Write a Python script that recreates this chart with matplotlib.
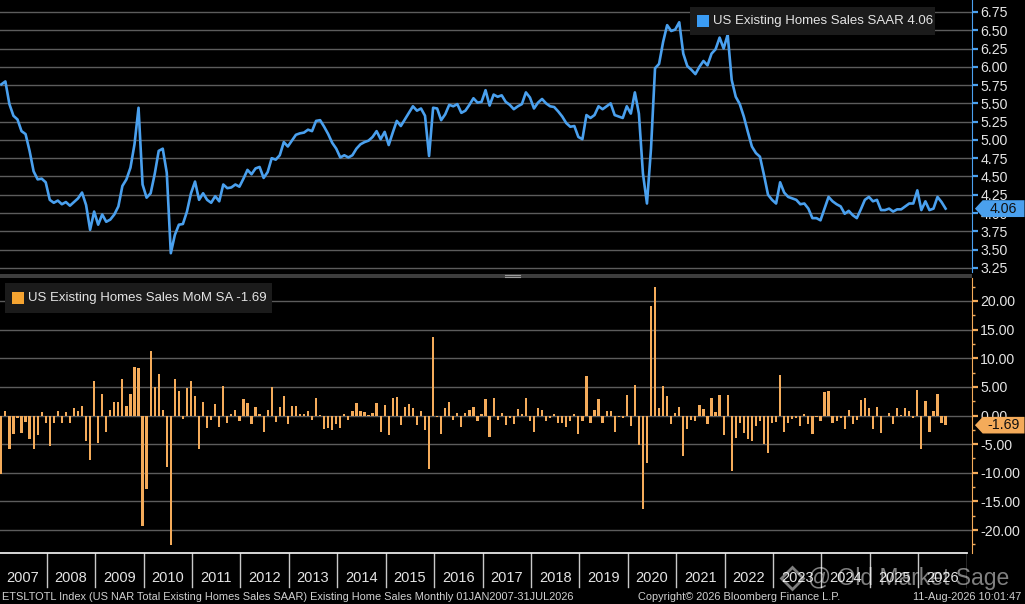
import numpy as np
import matplotlib
matplotlib.use('Agg')
import matplotlib.pyplot as plt
from matplotlib.patches import Rectangle, Polygon
from matplotlib.lines import Line2D
from matplotlib.ticker import FormatStrFormatter, MultipleLocator

# US existing home sales SAAR (millions), Jan 2007 .. Jul 2026
saar = [
    5.76, 5.80, 5.49, 5.33, 5.28, 5.12, 5.08, 4.85, 4.57, 4.46, 4.47, 4.42,  # 2007
    4.18, 4.14, 4.17, 4.12, 4.15, 4.10, 4.15, 4.20, 4.28, 4.11, 3.77, 4.02,  # 2008
    3.84, 3.98, 3.88, 3.91, 3.98, 4.09, 4.37, 4.46, 4.62, 4.94, 5.44, 4.39,  # 2009
    4.21, 4.27, 4.53, 4.85, 4.88, 4.55, 3.45, 3.70, 3.84, 3.85, 4.02, 4.27,  # 2010
    4.43, 4.18, 4.27, 4.18, 4.14, 4.23, 4.16, 4.39, 4.34, 4.35, 4.39, 4.36,  # 2011
    4.47, 4.59, 4.53, 4.61, 4.63, 4.48, 4.56, 4.75, 4.73, 4.79, 4.97, 4.91,  # 2012
    4.99, 5.07, 5.09, 5.10, 5.14, 5.12, 5.26, 5.27, 5.18, 5.08, 4.96, 4.88,  # 2013
    4.76, 4.79, 4.76, 4.79, 4.88, 4.94, 4.97, 4.99, 5.04, 5.12, 5.01, 5.11,  # 2014
    4.93, 5.10, 5.26, 5.19, 5.28, 5.37, 5.46, 5.40, 5.43, 5.33, 4.78, 5.44,  # 2015
    5.43, 5.27, 5.35, 5.48, 5.46, 5.49, 5.37, 5.40, 5.48, 5.57, 5.51, 5.52,  # 2016
    5.68, 5.47, 5.62, 5.59, 5.61, 5.52, 5.48, 5.42, 5.46, 5.49, 5.65, 5.58,  # 2017
    5.43, 5.51, 5.56, 5.50, 5.46, 5.45, 5.39, 5.32, 5.23, 5.18, 5.19, 5.04,  # 2018
    5.01, 5.34, 5.30, 5.34, 5.46, 5.42, 5.46, 5.50, 5.34, 5.32, 5.30, 5.46,  # 2019
    5.36, 5.65, 5.36, 4.54, 4.13, 4.88, 5.98, 6.04, 6.34, 6.57, 6.49, 6.51,  # 2020
    6.61, 6.18, 6.01, 5.96, 5.90, 6.00, 6.08, 6.02, 6.18, 6.24, 6.40, 6.25,  # 2021
    6.44, 5.82, 5.59, 5.49, 5.32, 5.11, 4.91, 4.82, 4.77, 4.52, 4.25, 4.18,  # 2022
    4.13, 4.42, 4.28, 4.22, 4.20, 4.18, 4.12, 4.13, 4.06, 3.93, 3.93, 3.90,  # 2023
    4.06, 4.22, 4.16, 4.12, 4.09, 3.99, 4.03, 3.97, 3.93, 4.05, 4.18, 4.22,  # 2024
    4.16, 4.18, 4.04, 4.04, 4.06, 4.02, 4.05, 4.05, 4.09, 4.13, 4.13, 4.31,  # 2025
    4.04, 4.16, 4.04, 4.06, 4.22, 4.15, 4.06,                                # 2026
]

# month over month change, SA (%)
mom = [
    -10.2, 0.7, -5.8, -3.2, -0.5, -3.0, -1.2, -4.1, -5.9, -3.4, 0.6, -1.3,
    -5.3, -1.3, 0.7, -1.3, 0.6, -1.3, 1.3, 0.7, 1.7, -4.4, -7.8, 6.1,
    -4.8, 3.7, -2.8, 0.9, 2.3, 2.3, 6.3, 1.6, 3.7, 8.4, 8.3, -19.2,
    -12.9, 11.2, 4.9, 7.2, 1.0, -9.0, -22.6, 6.4, 4.2, -0.6, 4.8, 6.0,
    3.4, -5.9, 2.3, -2.2, -0.7, 2.0, -2.0, 5.2, -1.3, 0.3, 0.9, -1.0,
    2.9, 2.2, -1.5, 1.5, 0.3, -2.9, 1.0, 4.9, -1.2, 1.5, 3.4, -1.5,
    1.6, 1.6, 0.3, 0.3, 0.7, -0.7, 3.0, 0.1, -2.3, -2.2, -2.6, -1.5,
    -2.2, 0.3, -0.7, 0.7, 2.2, 0.7, 0.6, 0.1, 0.5, 2.2, -2.8, 1.9,
    -3.4, 3.0, 3.2, -1.6, 1.5, 2.0, 1.3, -1.6, 0.7, -2.6, -9.4, 13.7,
    -0.2, -3.2, 1.3, 2.3, -0.7, 0.5, -2.0, 0.5, 1.0, 1.5, -0.9, 0.3,
    2.8, -3.8, 3.1, -0.7, 0.5, -1.7, -0.5, -1.5, 1.2, 0.3, 3.1, -0.9,
    -2.9, 1.3, 0.9, -1.0, -0.5, 0.3, -1.3, -1.3, -2.0, -0.9, 0.3, -3.2,
    -0.9, 6.9, -1.3, 1.0, 2.9, -1.3, 0.8, 0.8, -2.9, -0.3, -0.5, 3.5,
    -1.9, 5.3, -5.1, -16.4, -8.3, 19.1, 22.4, 1.3, 5.1, 3.4, -1.5, 0.5,
    1.5, -7.1, -2.3, -0.7, -1.0, 1.8, 1.2, -1.4, 3.1, 0.6, 3.5, -3.4,
    3.5, -9.7, -4.0, -1.3, -3.1, -4.1, -4.4, -1.9, -1.0, -5.0, -6.6, -1.3,
    -1.2, 7.0, -2.8, -1.3, -0.6, -0.5, -1.9, 0.2, -1.5, -3.3, -0.2, -1.0,
    4.1, 4.2, -1.3, -1.0, -0.5, -2.3, 1.0, -1.5, -0.8, 2.7, 3.0, 1.3,
    -2.3, 1.4, -3.1, -0.1, 0.5, -1.5, 1.3, 0.1, 1.3, 0.7, -0.5, 4.4,
    -5.8, 2.6, -2.9, 0.7, 3.7, -1.3, -1.69,
]

years = list(range(2007, 2027))
top_ticks = np.arange(3.25, 6.76, 0.25)
bot_ticks = np.arange(-20, 21, 5)

BLUE = '#4aa0ee'
ORANGE = '#f4ab5a'
GRID = '#5c5c5c'
TXT = '#e4e4e4'

plt.rcParams['font.family'] = ['Liberation Sans', 'DejaVu Sans']

W, H = 1025, 604
fig = plt.figure(figsize=(W / 100, H / 100), dpi=100, facecolor='black')


def box(x0, y0, x1, y1):
    return [x0 / W, 1 - y1 / H, (x1 - x0) / W, (y1 - y0) / H]


def fx(px):
    return px / W


def fy(py):
    return 1 - py / H


x = np.arange(len(saar)) + 0.75
xlim = (0.42, 241.3)

# ---- top panel: SAAR line
ax1 = fig.add_axes(box(0, 0, 972, 272))
ax1.set_facecolor('black')
ax1.plot(x, saar, color=BLUE, lw=1.9, zorder=3)
ax1.set_xlim(xlim)
ax1.set_ylim(3.193, 6.914)
ax1.set_yticks(top_ticks)
ax1.yaxis.tick_right()
ax1.yaxis.set_major_formatter(FormatStrFormatter('%.2f'))
ax1.tick_params(axis='y', colors=BLUE, labelcolor=TXT, length=4, width=1.6,
                labelsize=10.2, pad=2)
ax1.set_xticks([])
ax1.grid(axis='y', color=GRID, lw=1)
for s in ['top', 'left', 'bottom']:
    ax1.spines[s].set_visible(False)
ax1.spines['right'].set_color(BLUE)

# ---- bottom panel: MoM bars
ax2 = fig.add_axes(box(0, 278, 972, 553))
ax2.set_facecolor('black')
ax2.bar(x, mom, width=0.55, color=ORANGE, linewidth=0, zorder=3)
ax2.set_xlim(xlim)
ax2.set_ylim(-24, 24)
ax2.set_yticks(bot_ticks)
ax2.yaxis.set_minor_locator(MultipleLocator(2.5))
ax2.yaxis.tick_right()
ax2.yaxis.set_major_formatter(FormatStrFormatter('%.2f'))
ax2.tick_params(axis='y', which='major', colors=ORANGE, labelcolor=TXT, length=4,
                width=1.6, labelsize=10.2, pad=2)
ax2.tick_params(axis='y', which='minor', colors=ORANGE, length=2.5, width=1)
ax2.set_xticks([])
ax2.grid(axis='y', which='major', color=GRID, lw=1)
for s in ['top', 'left', 'bottom']:
    ax2.spines[s].set_visible(False)
ax2.spines['right'].set_color(ORANGE)


# last value tags on the right axis
def tag(ax, val, h, color, label):
    tr = ax.get_yaxis_transform()
    pts = [(1.003, val), (1.011, val + h / 2), (1.054, val + h / 2),
           (1.054, val - h / 2), (1.011, val - h / 2)]
    ax.add_patch(Polygon(pts, closed=True, transform=tr, facecolor=color,
                         edgecolor='none', clip_on=False, zorder=10))
    ax.text(1.032, val, label, transform=tr, ha='center', va='center',
            fontsize=10.2, color='#101010', clip_on=False, zorder=11)


tag(ax1, saar[-1], 0.23, BLUE, '%.2f' % saar[-1])
tag(ax2, mom[-1], 2.9, ORANGE, '%.2f' % mom[-1])

# legends
fig.add_artist(Rectangle((fx(690), fy(35)), fx(935) - fx(690), fy(7) - fy(35),
                         transform=fig.transFigure, facecolor='#1b1b1b', edgecolor='none'))
fig.add_artist(Rectangle((fx(697), fy(27)), fx(709) - fx(697), fy(15) - fy(27),
                         transform=fig.transFigure, facecolor='#3a9cf5', edgecolor='none'))
fig.text(fx(713), fy(21), 'US Existing Homes Sales SAAR %.2f' % saar[-1],
         color=TXT, fontsize=9.5, va='center', ha='left')

fig.add_artist(Rectangle((fx(5), fy(313)), fx(272) - fx(5), fy(283) - fy(313),
                         transform=fig.transFigure, facecolor='#1b1b1b', edgecolor='none'))
fig.add_artist(Rectangle((fx(12), fy(304)), fx(24) - fx(12), fy(292) - fy(304),
                         transform=fig.transFigure, facecolor='#f5a431', edgecolor='none'))
fig.text(fx(28), fy(298), 'US Existing Homes Sales MoM SA %.2f' % mom[-1],
         color=TXT, fontsize=9.5, va='center', ha='left')

# divider between the panels
fig.add_artist(Rectangle((0, fy(278)), fx(972), fy(274) - fy(278),
                         transform=fig.transFigure, facecolor='#3d3d3d', edgecolor='none'))
for yy in (275, 277):
    fig.add_artist(Line2D([fx(505), fx(520)], [fy(yy), fy(yy)],
                          transform=fig.transFigure, color='#9a9a9a', lw=0.8))

# ---- year band
ax3 = fig.add_axes(box(0, 553, 967, 590))
ax3.set_facecolor('black')
ax3.set_xlim(xlim[0], xlim[0] + 967 / 4.035)
ax3.set_ylim(0, 1)
ax3.set_xticks([])
ax3.set_yticks([])
for s in ['left', 'right', 'bottom']:
    ax3.spines[s].set_visible(False)
ax3.spines['top'].set_color('#e8e8e8')
ax3.spines['top'].set_linewidth(1.3)
for k, yr in enumerate(years):
    if k > 0:
        ax3.axvline(12 * k, ymin=0.08, ymax=1, color='#c8c8c8', lw=1)
    ax3.text(12 * k + 6, 0.32, str(yr), ha='center', va='center',
             color=TXT, fontsize=10.5)
ax3.axvline(12 * len(years), ymin=0.08, ymax=1, color='#c8c8c8', lw=1)

# footer
fig.text(fx(2), fy(597), 'ETSLTOTL Index (US NAR Total Existing Homes Sales SAAR) '
         'Existing Home Sales Monthly 01JAN2007-31JUL2026',
         color='#d0d0d0', fontsize=7.9, va='center', ha='left')
fig.text(fx(638), fy(597), 'Copyright\u00a9 2026 Bloomberg Finance L.P.',
         color='#d0d0d0', fontsize=7.9, va='center', ha='left')
fig.text(fx(1021), fy(597), '11-Aug-2026 10:01:47',
         color='#d0d0d0', fontsize=7.9, va='center', ha='right')

# watermark (overlaps the last year labels, as in the source image)
fig.add_artist(Line2D([fx(792)], [fy(578)], transform=fig.transFigure, marker='D',
                      markersize=11, markerfacecolor='none', markeredgecolor='white',
                      markeredgewidth=2, alpha=0.5))
fig.text(fx(808), fy(578), '@ Old Market Sage', color='white', alpha=0.5,
         fontsize=16.5, va='center', ha='left')

fig.savefig('out.png', dpi=100, facecolor='black')
